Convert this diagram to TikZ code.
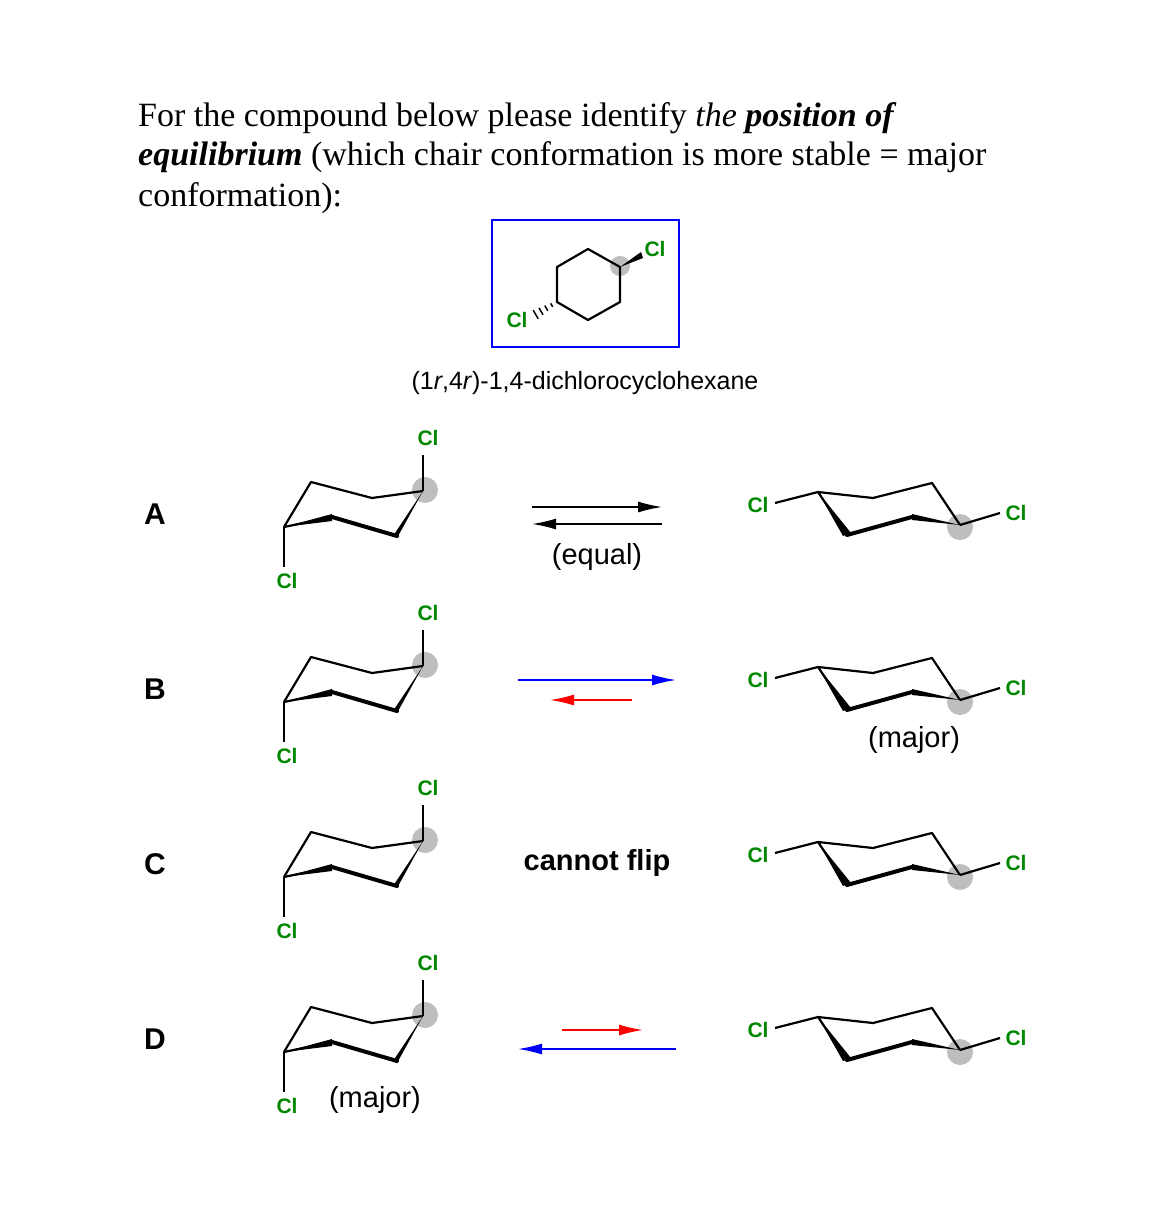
\documentclass[tikz,border=0pt]{standalone}
\usepackage{fontspec}
\setmainfont{Liberation Serif}
\newfontfamily\arial{Liberation Sans}
\usetikzlibrary{arrows.meta,calc}
\definecolor{clg}{RGB}{0,135,0}
\definecolor{gry}{RGB}{190,190,190}
\begin{document}
\begin{tikzpicture}[x=1pt,y=-1pt,
  cl/.style={font=\arial\bfseries\fontsize{21}{21}\selectfont,text=clg,inner sep=0pt},
  lbl/.style={font=\arial\fontsize{29}{29}\selectfont,inner sep=0pt},
  let/.style={font=\arial\bfseries\fontsize{30}{30}\selectfont,inner sep=0pt},
  bd/.style={line width=2.2pt,line join=round},
  arr/.style={line width=1.5pt,-{Latex[length=24pt,width=11pt]}}]
\useasboundingbox (0,0) rectangle (1170,1217);
\node[anchor=base west,align=left,inner sep=0pt,font=\fontsize{34}{40}\selectfont] (q) at (138,206)
 {For the compound below please identify \textit{the \textbf{position of}}\\
 \textbf{\textit{equilibrium}} (which chair conformation is more stable = major\\
 conformation):};
% top molecule
\draw[blue,line width=1.2pt] (492,220) rectangle (679,347);
\fill[gry] (620,266) circle (10);
\draw[bd] (588,249)--(620,267)--(620,302)--(588,320)--(557,302)--(557,267)--cycle;
\fill (620,267)--(641,252)--(643,258)--cycle;
\node[cl] (t1) at (655,249) {Cl};
\foreach \i in {1,...,4}{\draw[line width=1.5pt] ($(557,302)!\i/4.5!(533,316)+(-0.5*\i-0.5,-0.86*\i-0.86)$)--++(1*\i+1,1.72*\i+1.72);}
\node[cl] (t2) at (517,320) {Cl};
\node[font=\arial\fontsize{25}{25}\selectfont] (nm) at (585,383) {(1\textit{r},4\textit{r})-1,4-dichlorocyclohexane};
\foreach \L/\dy in {A/0,B/175,C/350,D/525}{
\begin{scope}[yshift=-\dy pt]
\node[let] (l\L) at (155,514) {\L};
% left chair
\fill[gry] (425,490) circle (13);
\draw[bd] (284,527)--(311,482)--(372,498)--(423,491);
\fill (284,527)--(332,514)--(332,521)--cycle;
\draw[line width=4pt,line cap=round] (332,517)--(397,536);
\fill (397,538)--(395,533)--(423,491)--cycle;
\draw[bd] (284,527)--(332,517);
\draw[bd] (423,491)--(423,455);
\draw[bd] (284,527)--(284,567);
\node[cl] (a\L) at (428,438) {Cl};
\node[cl] (b\L) at (287,581) {Cl};
% right chair
\fill[gry] (960,527) circle (13);
\draw[bd] (847,535)--(818,492)--(873,498)--(932,483)--(960,525);
\fill (818,492)--(843,536)--(851,533)--cycle;
\draw[line width=4pt,line cap=round] (847,535)--(912,517);
\fill (912,514)--(912,520)--(960,525)--cycle;
\draw[bd] (818,492)--(775,503);
\draw[bd] (960,525)--(1000,513);
\node[cl] (c\L) at (758,505) {Cl};
\node[cl] (d\L) at (1016,513) {Cl};
\end{scope}}
% arrows
\draw[arr] (532,507)--(662,507);
\draw[arr] (662,524)--(532,524);
\node[lbl] (eq) at (597,557) {(equal)};
\draw[arr,blue] (518,680)--(676,680);
\draw[arr,red] (632,700)--(550,700);
\node[lbl] (mj1) at (914,740) {(major)};
\node[lbl,font=\arial\bfseries\fontsize{29}{29}\selectfont] (cf) at (597,863) {cannot flip};
\draw[arr,red] (562,1030)--(643,1030);
\draw[arr,blue] (676,1049)--(518,1049);
\node[lbl] (mj2) at (375,1100) {(major)};
\end{tikzpicture}
\end{document}
